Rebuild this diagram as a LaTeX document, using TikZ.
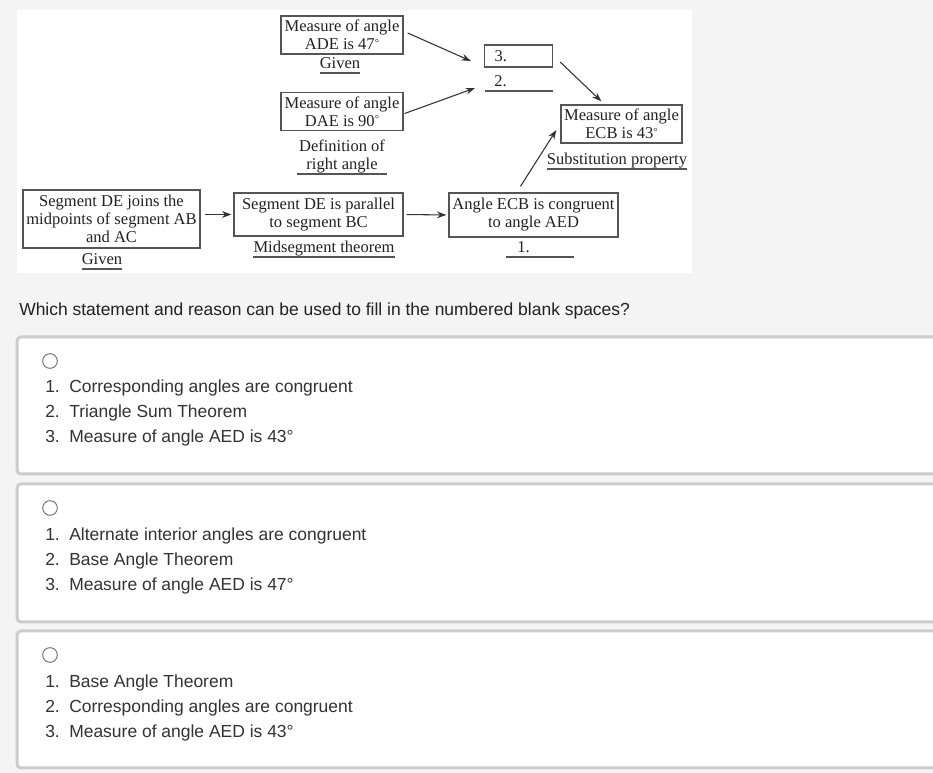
\documentclass[tikz,border=0pt]{standalone}
\usepackage{fontspec}
\setmainfont{Liberation Serif}
\newfontfamily\uisans{Liberation Sans}
\usetikzlibrary{arrows.meta}
\definecolor{pagebg}{HTML}{F4F4F4}
\definecolor{cardline}{HTML}{CCCCCC}
\definecolor{boxline}{HTML}{555555}
\definecolor{arrline}{HTML}{333333}
\definecolor{ink}{HTML}{222222}
\definecolor{uitext}{HTML}{333333}
\definecolor{radioline}{HTML}{777777}
\newcommand\diagfont{\fontsize{12.4pt}{13.5pt}\selectfont}
\newcommand\optfont{\uisans\fontsize{13.1pt}{15pt}\selectfont}
\newcommand\degsup{\raisebox{2.5pt}{\fontsize{8pt}{8pt}\selectfont °}}
\begin{document}
\begin{tikzpicture}[x=0.75pt,y=-0.75pt,
  stmt/.style={draw=boxline, line width=1pt, text=ink, inner sep=0pt, align=center, font=\diagfont},
  reason/.style={text=ink, inner sep=0pt, align=center, font=\diagfont, text depth=3pt},
  uline/.style={draw=boxline, line width=0.8pt},
  arr/.style={draw=arrline, line width=0.8pt, -{Stealth[length=7pt,width=5pt]}},
  opt/.style={anchor=west, inner sep=0pt, text=uitext, font=\optfont},
  card/.style={fill=white, draw=cardline, line width=2.25pt, rounded corners=3pt},
  radio/.style={circle, draw=radioline, line width=0.75pt, minimum size=11pt, inner sep=0pt}]
\useasboundingbox (0,0) rectangle (933,773);
\clip (0,0) rectangle (933,773);
\fill[pagebg] (0,0) rectangle (933,773);
\fill[white] (17,10) rectangle (692,273);

% statements
\node[stmt, minimum width=91.5pt, minimum height=28.5pt] (A) at (342,35) {Measure of angle\\ADE is 47\degsup};
\node[stmt, minimum width=91.5pt, minimum height=28.5pt] (B) at (342,111.5) {Measure of angle\\DAE is 90\degsup};
\node[stmt, minimum width=132.75pt, minimum height=43.5pt] (C) at (111.5,219) {Segment DE joins the\\midpoints of segment AB\\and AC};
\node[stmt, minimum width=126.75pt, minimum height=32.25pt] (D) at (318.5,214.5) {Segment DE is parallel\\to segment BC};
\node[stmt, text width=36pt, inner xsep=7.5pt, minimum height=16.5pt, align=left] (E) at (518.5,56) {3.};
\node[stmt, minimum width=90.75pt, minimum height=28.5pt] (F) at (621.5,124) {Measure of angle\\ECB is 43\degsup};
\node[stmt, minimum width=126.75pt, minimum height=33pt] (G) at (533.5,215) {Angle ECB is congruent\\to angle AED};

% reasons
\node[reason, anchor=south] (rA) at (340,73) {Given};
\node[reason, anchor=south, minimum width=66.75pt] (rB) at (342,174) {Definition of\\right angle};
\node[reason, anchor=south] (rC) at (102,269) {Given};
\node[reason, anchor=south] (rD) at (324,257) {Midsegment theorem};
\node[reason, anchor=south west, text width=50.25pt, align=left] (rE) at (485,91) {\hspace*{6.75pt}2.};
\node[reason, anchor=south] (rF) at (617,169) {Substitution property};
\node[reason, anchor=south west, text width=50.25pt, align=left] (rG) at (506,257) {\hspace*{8.25pt}1.};
\foreach \r in {rA,rB,rC,rD,rE,rF,rG}
  \draw[uline] (\r.south west) -- (\r.south east);

% connectors
\draw[arr] ([shift={(4,-2)}]A.east) -- ([shift={(-13,5)}]E.west);
\draw[arr] ([shift={(1,2)}]B.east) -- ([shift={(-10,-3)}]rE.south west);
\draw[arr, shorten <=3pt, shorten >=1.5pt] (C.east |- D.west) -- (D.west);
\draw[arr, shorten <=2.25pt, shorten >=1.5pt] (D.east) -- (G.west);
\draw[arr] ([shift={(7,6)}]E.east) -- ([shift={(41,-3)}]F.north west);
\draw[arr] ([shift={(-13,-6)}]G.north) -- ([shift={(-4,6)}]F.west);

% question
\node[opt, text=ink] (q) at (19,311) {Which statement and reason can be used to fill in the numbered blank spaces?};

% cards
\draw[card] (17,337) rectangle (960,474);
\draw[card] (17,484) rectangle (960,622);
\draw[card] (17,631) rectangle (960,768);

\node[radio] (o1) at (50,361) {};
\node[opt] (o1a) at (45,388) {\makebox[18pt][l]{1.}Corresponding angles are congruent};
\node[opt] (o1b) at (45,413) {\makebox[18pt][l]{2.}Triangle Sum Theorem};
\node[opt] (o1c) at (45,438) {\makebox[18pt][l]{3.}Measure of angle AED is 43°};

\node[radio] (o2) at (50,508) {};
\node[opt] (o2a) at (45,536) {\makebox[18pt][l]{1.}Alternate interior angles are congruent};
\node[opt] (o2b) at (45,561) {\makebox[18pt][l]{2.}Base Angle Theorem};
\node[opt] (o2c) at (45,586) {\makebox[18pt][l]{3.}Measure of angle AED is 47°};

\node[radio] (o3) at (50,655) {};
\node[opt] (o3a) at (45,683) {\makebox[18pt][l]{1.}Base Angle Theorem};
\node[opt] (o3b) at (45,708) {\makebox[18pt][l]{2.}Corresponding angles are congruent};
\node[opt] (o3c) at (45,733) {\makebox[18pt][l]{3.}Measure of angle AED is 43°};
\end{tikzpicture}
\end{document}
